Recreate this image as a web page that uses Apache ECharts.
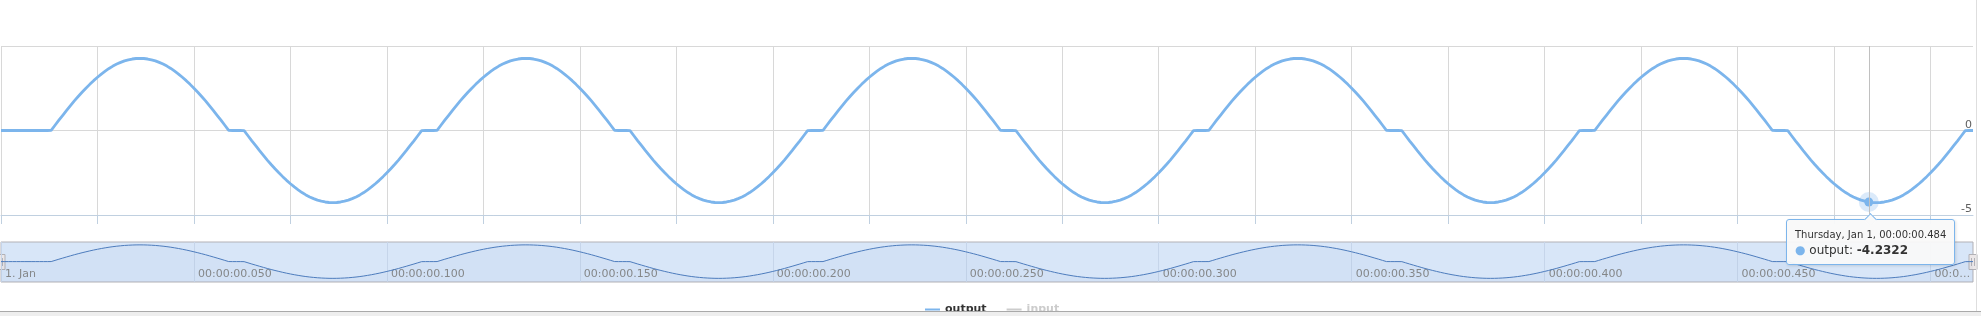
<!DOCTYPE html>
<html>
<head>
<meta charset="utf-8">
<script src="https://cdn.jsdelivr.net/npm/echarts@6/dist/echarts.min.js"></script>
<style>
html,body{margin:0;padding:0;background:#ffffff;overflow:hidden;width:1981px;height:316px}
#chart{position:absolute;left:0;top:0;width:1981px;height:316px}
#frameR{position:absolute;left:1976px;top:0;width:1px;height:311px;background:#dedede}
#frameB{position:absolute;left:0;top:311px;width:1981px;height:5px;background:#eeeeee;border-top:1px solid #a9a9a9;box-sizing:border-box}
</style>
</head>
<body>
<div id="chart"></div>
<div id="frameR"></div>
<div id="frameB"></div>
<script>
// ---------------- data ----------------
const seriesNames = ['output', 'input'];
const sampleStepMs = 1;            // one sample per millisecond, starting at t = 0
// output, t = 0 … 511 ms
const outputValues = [
  // t = 0 … 10
  0,0,0,0,0,0,0,0,0,0,0,
  // t = 11 … 110
  0,0,0.01,0.31,0.61,0.90,1.19,1.47,1.75,2.01,2.26,2.50,2.73,2.95,3.15,3.34,3.51,3.67,3.81,3.93,4.03,4.12,4.18,4.23,4.26,4.27,4.26,4.23,4.18,4.12,4.03,3.93,3.81,3.67,3.51,3.34,3.15,2.95,2.73,2.50,2.26,2.01,1.75,1.47,1.19,0.90,0.61,0.31,0.01,0,0,
  0,-0.01,-0.31,-0.61,-0.90,-1.19,-1.47,-1.75,-2.01,-2.26,-2.50,-2.73,-2.95,-3.15,-3.34,-3.51,-3.67,-3.81,-3.93,-4.03,-4.12,-4.18,-4.23,-4.26,-4.27,-4.26,-4.23,-4.18,-4.12,-4.03,-3.93,-3.81,-3.67,-3.51,-3.34,-3.15,-2.95,-2.73,-2.50,-2.26,-2.01,-1.75,-1.47,-1.19,-0.90,-0.61,-0.31,-0.01,0,
  // t = 111 … 210
  0,0,0.01,0.31,0.61,0.90,1.19,1.47,1.75,2.01,2.26,2.50,2.73,2.95,3.15,3.34,3.51,3.67,3.81,3.93,4.03,4.12,4.18,4.23,4.26,4.27,4.26,4.23,4.18,4.12,4.03,3.93,3.81,3.67,3.51,3.34,3.15,2.95,2.73,2.50,2.26,2.01,1.75,1.47,1.19,0.90,0.61,0.31,0.01,0,0,
  0,-0.01,-0.31,-0.61,-0.90,-1.19,-1.47,-1.75,-2.01,-2.26,-2.50,-2.73,-2.95,-3.15,-3.34,-3.51,-3.67,-3.81,-3.93,-4.03,-4.12,-4.18,-4.23,-4.26,-4.27,-4.26,-4.23,-4.18,-4.12,-4.03,-3.93,-3.81,-3.67,-3.51,-3.34,-3.15,-2.95,-2.73,-2.50,-2.26,-2.01,-1.75,-1.47,-1.19,-0.90,-0.61,-0.31,-0.01,0,
  // t = 211 … 310
  0,0,0.01,0.31,0.61,0.90,1.19,1.47,1.75,2.01,2.26,2.50,2.73,2.95,3.15,3.34,3.51,3.67,3.81,3.93,4.03,4.12,4.18,4.23,4.26,4.27,4.26,4.23,4.18,4.12,4.03,3.93,3.81,3.67,3.51,3.34,3.15,2.95,2.73,2.50,2.26,2.01,1.75,1.47,1.19,0.90,0.61,0.31,0.01,0,0,
  0,-0.01,-0.31,-0.61,-0.90,-1.19,-1.47,-1.75,-2.01,-2.26,-2.50,-2.73,-2.95,-3.15,-3.34,-3.51,-3.67,-3.81,-3.93,-4.03,-4.12,-4.18,-4.23,-4.26,-4.27,-4.26,-4.23,-4.18,-4.12,-4.03,-3.93,-3.81,-3.67,-3.51,-3.34,-3.15,-2.95,-2.73,-2.50,-2.26,-2.01,-1.75,-1.47,-1.19,-0.90,-0.61,-0.31,-0.01,0,
  // t = 311 … 410
  0,0,0.01,0.31,0.61,0.90,1.19,1.47,1.75,2.01,2.26,2.50,2.73,2.95,3.15,3.34,3.51,3.67,3.81,3.93,4.03,4.12,4.18,4.23,4.26,4.27,4.26,4.23,4.18,4.12,4.03,3.93,3.81,3.67,3.51,3.34,3.15,2.95,2.73,2.50,2.26,2.01,1.75,1.47,1.19,0.90,0.61,0.31,0.01,0,0,
  0,-0.01,-0.31,-0.61,-0.90,-1.19,-1.47,-1.75,-2.01,-2.26,-2.50,-2.73,-2.95,-3.15,-3.34,-3.51,-3.67,-3.81,-3.93,-4.03,-4.12,-4.18,-4.23,-4.26,-4.27,-4.26,-4.23,-4.18,-4.12,-4.03,-3.93,-3.81,-3.67,-3.51,-3.34,-3.15,-2.95,-2.73,-2.50,-2.26,-2.01,-1.75,-1.47,-1.19,-0.90,-0.61,-0.31,-0.01,0,
  // t = 411 … 510
  0,0,0.01,0.31,0.61,0.90,1.19,1.47,1.75,2.01,2.26,2.50,2.73,2.95,3.15,3.34,3.51,3.67,3.81,3.93,4.03,4.12,4.18,4.23,4.26,4.27,4.26,4.23,4.18,4.12,4.03,3.93,3.81,3.67,3.51,3.34,3.15,2.95,2.73,2.50,2.26,2.01,1.75,1.47,1.19,0.90,0.61,0.31,0.01,0,0,
  0,-0.01,-0.31,-0.61,-0.90,-1.19,-1.47,-1.75,-2.01,-2.26,-2.50,-2.73,-2.95,-3.15,-3.34,-3.51,-3.67,-3.81,-3.93,-4.03,-4.12,-4.18,-4.2322,-4.26,-4.27,-4.26,-4.23,-4.18,-4.12,-4.03,-3.93,-3.81,-3.67,-3.51,-3.34,-3.15,-2.95,-2.73,-2.50,-2.26,-2.01,-1.75,-1.47,-1.19,-0.90,-0.61,-0.31,-0.01,0,
  // t = 511
  0
];
const inputValues = [];                      // hidden series (legend item switched off)
const mainTickValues = [0,25,50,75,100,125,150,175,200,225,250,275,300,325,350,375,400,425,450,475,500];
const navigatorLabelValues = [0,50,100,150,200,250,300,350,400,450,500];
const yTickValues = [-5, 0, 5];
const tooltipSampleIndex = 484;              // hovered point (t = 484 ms)

// ---------------- helpers ----------------
const WEEKDAYS = ['Sunday','Monday','Tuesday','Wednesday','Thursday','Friday','Saturday'];
const MONTHS = ['Jan','Feb','Mar','Apr','May','Jun','Jul','Aug','Sep','Oct','Nov','Dec'];
const pad2 = n => String(n).padStart(2, '0');
function clock(ms) {
  const d = new Date(ms);
  return pad2(d.getUTCHours()) + ':' + pad2(d.getUTCMinutes()) + ':' + pad2(d.getUTCSeconds()) + '.' + String(d.getUTCMilliseconds()).padStart(3, '0');
}
const FONT = '"DejaVu Sans", Verdana, sans-serif';
const xMax = (outputValues.length - 1) * sampleStepMs;
const outputData = outputValues.map((v, i) => [i * sampleStepMs, v]);
const tipT = tooltipSampleIndex * sampleStepMs;
const tipV = outputValues[tooltipSampleIndex];

const MAIN = { left: 1, right: 8, top: 46, height: 169 };
const NAV = { left: 1, right: 8, top: 242, height: 40 };
const W = 1981;

function handle(cx) {
  const cy = NAV.top + NAV.height / 2;
  return {
    type: 'group', z: 100,
    children: [
      { type: 'rect', shape: { x: cx - 4, y: cy - 7.5, width: 8, height: 15 },
        style: { fill: '#ebe7e8', stroke: '#b2b1b6', lineWidth: 1 } },
      { type: 'line', shape: { x1: cx - 1.5, y1: cy - 4, x2: cx - 1.5, y2: cy + 4 },
        style: { stroke: '#b2b1b6', lineWidth: 1 } },
      { type: 'line', shape: { x1: cx + 1.5, y1: cy - 4, x2: cx + 1.5, y2: cy + 4 },
        style: { stroke: '#b2b1b6', lineWidth: 1 } }
    ]
  };
}

const chart = echarts.init(document.getElementById('chart'), null, { renderer: 'canvas' });
let tipPixel = null;

chart.setOption({
  animation: false,
  backgroundColor: '#ffffff',
  textStyle: { fontFamily: FONT },
  grid: [
    Object.assign({ containLabel: false, outerBoundsMode: 'none' }, MAIN),
    Object.assign({ containLabel: false, outerBoundsMode: 'none', show: true,
      backgroundColor: '#d8e6f8', borderColor: '#b2b1b6', borderWidth: 1 }, NAV)
  ],
  xAxis: [
    {
      type: 'value', gridIndex: 0, min: 0, max: xMax, interval: 25,
      axisLine: { show: true, onZero: false, lineStyle: { color: '#C0D0E0', width: 1 } },
      axisTick: { show: true, length: 9, customValues: mainTickValues, lineStyle: { color: '#C0D0E0' } },
      axisLabel: { show: false },
      splitLine: { show: true, lineStyle: { color: '#d8d8d8', width: 1 } },
      axisPointer: { show: true, type: 'line', snap: true, label: { show: false },
        lineStyle: { color: '#c0c0c0', width: 1, type: 'solid' } }
    },
    {
      type: 'value', gridIndex: 1, min: 0, max: xMax, interval: 50,
      axisLine: { show: false, onZero: false },
      axisTick: { show: false, customValues: navigatorLabelValues },
      splitLine: { show: true, lineStyle: { color: '#c6d5ea', width: 1 } },
      axisLabel: {
        show: true, inside: true, margin: 2, align: 'left', padding: [0, 0, 0, 4],
        customValues: navigatorLabelValues,
        color: '#888888', fontSize: 11, fontFamily: FONT,
        formatter: function (v) {
          const d = new Date(v);
          if (v === 0) return d.getUTCDate() + '. ' + MONTHS[d.getUTCMonth()];
          let s = clock(v);
          if (xMax - v < 50) s = s.slice(0, 4) + '\u2026';
          return s;
        }
      },
      axisPointer: { show: false }
    }
  ],
  yAxis: [
    {
      type: 'value', gridIndex: 0, position: 'right',
      min: yTickValues[0], max: yTickValues[yTickValues.length - 1], interval: yTickValues[1] - yTickValues[0],
      axisLine: { show: false }, axisTick: { show: false },
      splitLine: { show: true, lineStyle: { color: '#d8d8d8', width: 1 } },
      axisLabel: { show: true, inside: true, margin: 1, verticalAlign: 'bottom', showMaxLabel: false,
        color: '#606060', fontSize: 11, fontFamily: FONT }
    },
    { type: 'value', gridIndex: 1, min: -5.2, max: 5, show: false, splitLine: { show: false } }
  ],
  legend: {
    data: seriesNames,
    selected: { input: false },
    left: 920, top: 299,
    icon: 'rect', itemWidth: 15, itemHeight: 2, itemGap: 20,
    inactiveColor: '#cccccc',
    textStyle: { fontFamily: FONT, fontSize: 11, fontWeight: 'bold', color: '#333333' }
  },
  tooltip: {
    trigger: 'axis',
    triggerOn: 'none',
    alwaysShowContent: true,
    transitionDuration: 0,
    backgroundColor: 'rgba(249,249,249,0.94)',
    borderColor: '#7cb5ec',
    borderWidth: 1,
    padding: [8, 8, 6, 8],
    textStyle: { fontFamily: FONT, fontSize: 12, color: '#333333' },
    extraCssText: 'border-radius:3px;box-shadow:1px 1px 3px rgba(0,0,0,0.12);',
    position: function (point, params, dom, rect, size) {
      const p = tipPixel || point;
      return [p[0] - size.contentSize[0] / 2 + 1.5, p[1] + 16.5];
    },
    formatter: function (params) {
      const p = params[0];
      const t = p.value[0], v = p.value[1];
      const d = new Date(t);
      const header = WEEKDAYS[d.getUTCDay()] + ', ' + MONTHS[d.getUTCMonth()] + ' ' + d.getUTCDate() + ', ' + clock(t);
      return '<div style="position:absolute;left:50%;top:-5px;margin-left:-4.5px;width:9px;height:9px;box-sizing:border-box;' +
               'background:#f9f9f9;border-left:1px solid #7cb5ec;border-top:1px solid #7cb5ec;transform:rotate(45deg);"></div>' +
             '<div style="font-size:10px;line-height:14px;">' + header + '</div>' +
             '<div style="font-size:12px;line-height:16px;"><span style="color:#7cb5ec;">\u25CF</span> ' +
               p.seriesName + ': <b>' + v + '</b></div>';
    }
  },
  graphic: [
    handle(MAIN.left),
    handle(W - NAV.right)
  ],
  series: [
    {
      name: seriesNames[0], type: 'line', xAxisIndex: 0, yAxisIndex: 0,
      data: outputData,
      showSymbol: false, symbol: 'circle', symbolSize: 8,
      color: '#7cb5ec',
      itemStyle: { color: '#7cb5ec', borderWidth: 0 },
      lineStyle: { color: '#7cb5ec', width: 2.8 },
      emphasis: { disabled: true },
      markPoint: {
        silent: true, symbol: 'circle', label: { show: false }, animation: false,
        data: [
          { coord: [tipT, tipV], symbolSize: 20, itemStyle: { color: 'rgba(124,181,236,0.28)' } },
          { coord: [tipT, tipV], symbolSize: 8, itemStyle: { color: '#7cb5ec' } }
        ]
      },
      z: 3
    },
    {
      name: seriesNames[1], type: 'line', xAxisIndex: 0, yAxisIndex: 0,
      data: inputValues, showSymbol: false, color: '#434348',
      lineStyle: { width: 2 }
    },
    {
      name: 'navigator', type: 'line', xAxisIndex: 1, yAxisIndex: 1,
      data: outputData, showSymbol: false, silent: true,
      color: '#4572A7',
      lineStyle: { color: '#4d7cbd', width: 1 },
      areaStyle: { color: 'rgba(69,114,167,0.05)', origin: 'start' },
      emphasis: { disabled: true },
      tooltip: { show: false }
    }
  ]
});

tipPixel = chart.convertToPixel({ seriesIndex: 0 }, [tipT, tipV]);
chart.dispatchAction({ type: 'showTip', seriesIndex: 0, dataIndex: tooltipSampleIndex });
setTimeout(function () {
  chart.dispatchAction({ type: 'showTip', seriesIndex: 0, dataIndex: tooltipSampleIndex });
}, 50);
</script>
</body>
</html>
